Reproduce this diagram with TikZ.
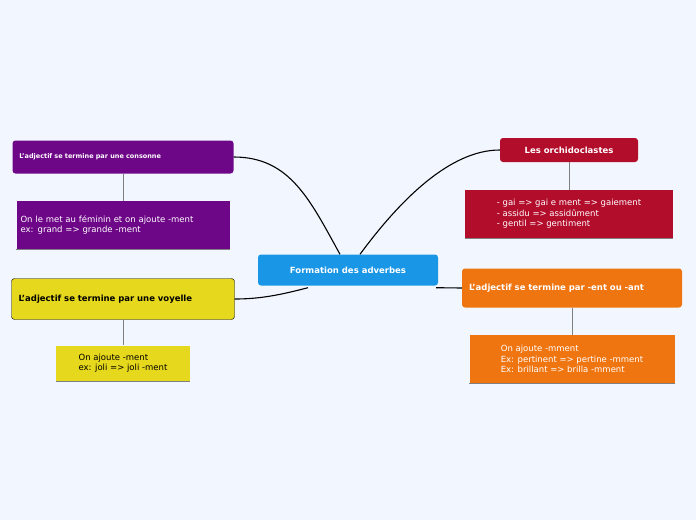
\documentclass[tikz,border=0pt]{standalone}
\usepackage{fontspec}
\setmainfont{DejaVu Sans}
\usepackage{tikz}
\definecolor{bgcol}{HTML}{F2F6FE}
\definecolor{rootcol}{HTML}{1A96E6}
\definecolor{redcol}{HTML}{B30D2C}
\definecolor{orgcol}{HTML}{EF7511}
\definecolor{purcol}{HTML}{6E0787}
\definecolor{yelcol}{HTML}{E6D81C}
\tikzset{topic/.style={rounded corners=3pt, text=white, font=\bfseries\fontsize{8.5}{10}\selectfont,
    align=left, inner xsep=7pt, inner ysep=5pt},
  note/.style={text=white, font=\fontsize{8.5}{10.5}\selectfont, align=left,
    inner xsep=4pt, inner ysep=3pt},
  link/.style={black, line width=1.1pt},
  stem/.style={gray, line width=0.6pt}}
\begin{document}
\begin{tikzpicture}[x=1pt,y=-1pt]
    \fill[bgcol] (0,0) rectangle (696,520);
    \node [topic, fill=rootcol, minimum width=180pt, minimum height=31pt, align=center] (root) at (348,270) {Formation des adverbes};
    \node [topic, fill=redcol, minimum width=138pt, minimum height=24pt] (orchid) at (569,150) {Les orchidoclastes};
    \node [note, fill=redcol, minimum width=208pt, minimum height=48pt] (orchidtxt) at (569,214) {- gai => gai e ment => gaiement\\- assidu => assidûment\\- gentil => gentiment};
    \node [topic, fill=orgcol, text width=206pt, minimum height=39pt] (ent) at (572,288) {L'adjectif se termine par -ent ou -ant};
    \node [note, fill=orgcol, minimum width=205pt, minimum height=48pt] (enttxt) at (572,359) {On ajoute -mment\\Ex: pertinent => pertine -mment\\Ex: brillant => brilla -mment};
    \node [topic, fill=purcol, text width=207pt, minimum height=33pt, font=\bfseries\fontsize{6.5}{8}\selectfont] (cons) at (123,157) {L'adjectif se termine par une consonne};
    \node [note, fill=purcol, text width=205pt, minimum height=48pt] (constxt) at (123,225) {On le met au féminin et on ajoute -ment\\ex: grand => grande -ment};
    \node [topic, fill=yelcol, draw=black, text=black, text width=209pt, minimum height=41pt] (voy) at (123,299) {L'adjectif se termine par une voyelle};
    \node [note, fill=yelcol, text=black, minimum width=134pt, minimum height=35pt] (voytxt) at (123,363) {On ajoute -ment\\ex: joli => joli -ment};
    % branches
    \draw [link] (root.north) ++(-8,0) .. controls (310,200) and (290,157) .. (cons.east);
    \draw [link] (root.north) ++(12,0) .. controls (400,200) and (450,150) .. (orchid.west);
    \draw [link] (root.south) ++(-40,2) .. controls (280,295) and (260,299) .. (voy.east);
    \draw [link] (root.south) ++(88,2) -- (ent.west);
    \draw [stem] (orchid) -- (orchidtxt);
    \draw [stem] (ent) -- (enttxt);
    \draw [stem] (cons) -- (constxt);
    \draw [stem] (voy) -- (voytxt);
    \foreach \n in {orchidtxt,enttxt,constxt,voytxt}
        \draw [gray] (\n.south west) -- (\n.south east);
\end{tikzpicture}
\end{document}
